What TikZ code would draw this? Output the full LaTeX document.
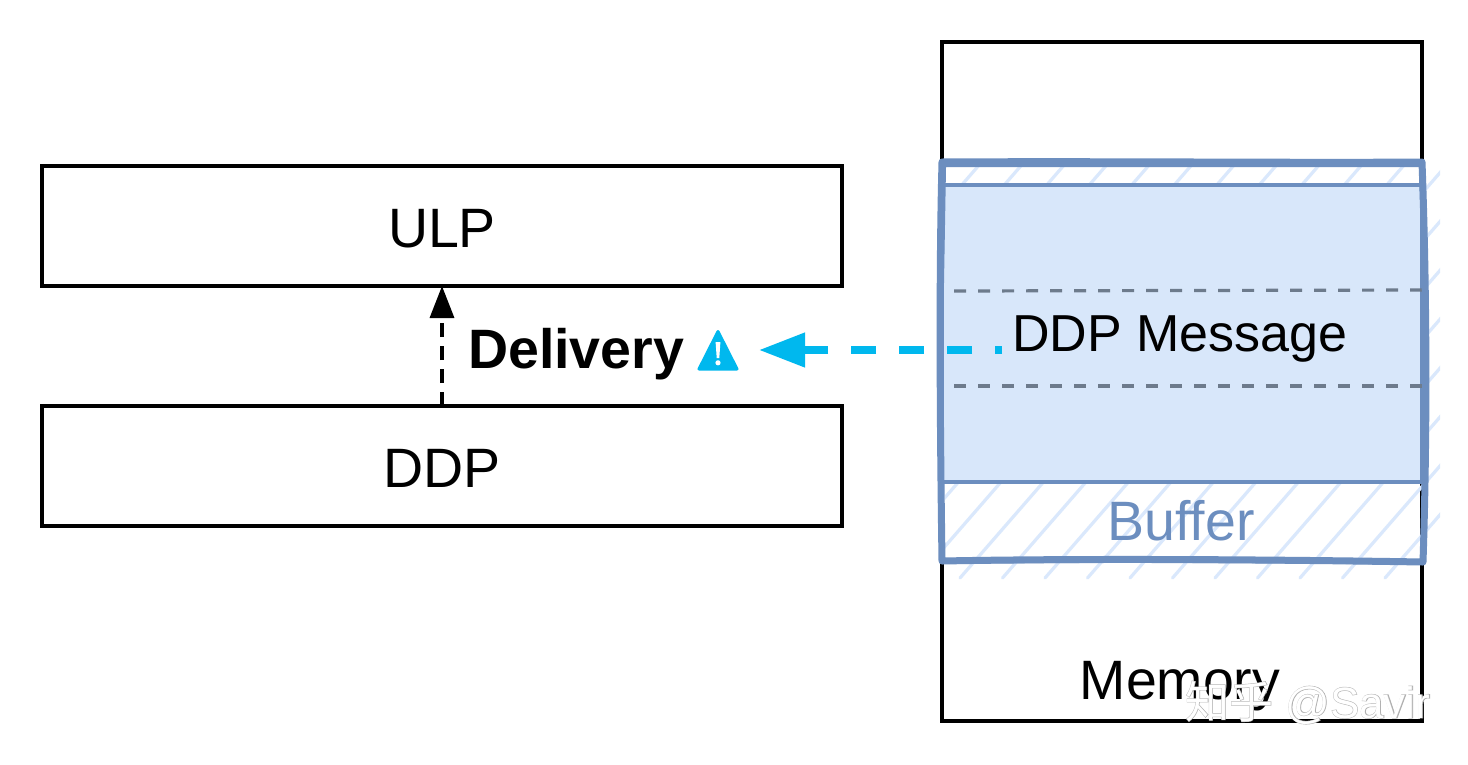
\documentclass[tikz,border=0pt]{standalone}
\usepackage{fontspec}
\setmainfont{Liberation Sans}
\newfontfamily\cjkwm{Noto Sans CJK SC}
\newfontfamily\cjkwmb[FakeBold=2]{Noto Sans CJK SC}
\newfontfamily\latinwmb[FakeBold=2]{Liberation Sans}
\usetikzlibrary{arrows.meta}
\definecolor{bufblue}{HTML}{6C8EBF}
\definecolor{msgfill}{HTML}{D8E7FA}
\definecolor{hatchblue}{HTML}{DAE8FC}
\definecolor{dashgray}{HTML}{6D7B8C}
\definecolor{cyanarrow}{HTML}{00B8EE}
\newcommand{\bigfont}{\fontsize{55.5}{60}\selectfont}
\newcommand{\wmfont}{\fontsize{44}{48}\selectfont}
\tikzset{
  layerbox/.style={draw=black,line width=4pt,minimum width=800pt,minimum height=120pt,inner sep=0pt,outer sep=0pt,font=\bigfont,fill=white},
  lbl/.style={anchor=base,inner sep=0pt,font=\bigfont},
  wmtext/.style={anchor=base west,inner sep=0pt,font=\wmfont},
  hatchline/.style={hatchblue,line width=3.2pt},
  gapline/.style={dashgray,line width=3.2pt,dash pattern=on 12pt off 12pt},
}
\begin{document}
\begin{tikzpicture}[x=1pt,y=-1pt]
\useasboundingbox (0,0) rectangle (1468,764);
\fill[white] (0,0) rectangle (1468,764);
% memory
\node[draw=black,line width=4pt,minimum width=480pt,minimum height=679pt,inner sep=0pt,outer sep=0pt] (mem) at (1182,381.5) {};
% hatch
\begin{scope}
\clip (945,165) rectangle (1440,580);
\foreach \i in {-9,...,10}{
  \draw[hatchline,line cap=round] ({960+42.5*\i},578) -- ({960+42.5*\i+400},{578-460});
}
\end{scope}
% message
\node[draw=bufblue,fill=msgfill,line width=3.5pt,minimum width=480pt,minimum height=297pt,inner sep=0pt,outer sep=0pt] (msg) at (1182,333.5) {};
\draw[gapline] (954,291) -- (1424,290);
\draw[gapline] (954,386) -- (1424,386);
% sketchy buffer outline
\draw[bufblue,line width=7pt,line join=round]
  (942,162) .. controls (1100,161) and (1300,163) .. (1422,162)
  .. controls (1427,300) and (1427,440) .. (1423,562)
  .. controls (1300,560) and (1100,558) .. (942,561)
  .. controls (940,420) and (939,280) .. (942,162) -- cycle;
\fill[bufblue] (942,163) -- (1421,163) -- (1421,167) -- (946,167) -- (943,340) -- (940,340) -- cycle;
\fill[bufblue] (1419,165) -- (1424,165) -- (1427,340) -- (1424,340) -- cycle;
\draw[bufblue,line width=4pt] (943,562) .. controls (1100,560) and (1300,561) .. (1422,563);
\node[lbl,text=bufblue] (buflabel) at (1181,540) {Buffer};
\node[lbl,font=\fontsize{52}{58}\selectfont] (msglabel) at (1180,351) {DDP Message};
\node[lbl] (memlabel) at (1180,699) {Memory};
% left boxes
\node[layerbox] (ulp) at (442,226) {\raisebox{-2pt}[\height][0pt]{ULP}};
\node[layerbox] (ddp) at (442,466) {\raisebox{-2pt}[\height][0pt]{DDP}};
\draw[line width=3.4pt,dash pattern=on 14pt off 9pt,-{Triangle[length=32pt,width=24pt]}] (ddp.north) -- (ulp.south);
% delivery
\node[anchor=base west,inner sep=0pt,font=\bigfont\bfseries] (delivery) at (468,368) {Delivery};
% warning icon
\fill[cyanarrow,draw=cyanarrow,line width=3pt,line join=round] (718,331.5) -- (737,369) -- (699,369) -- cycle;
\fill[white] (715.6,342) -- (720.4,342) -- (719.3,358) -- (716.7,358) -- cycle;
\fill[white] (718,362.8) circle (2.6pt);
% cyan arrow
\coordinate (arrowstart) at (1002,350);
\coordinate (arrowend) at (759,350);
\draw[cyanarrow,line width=7.5pt,dash pattern=on 25pt off 23pt,dash phase=18pt,-{Triangle[length=46pt,width=33pt]}] (arrowstart) -- (arrowend);
% watermark
\node[wmtext,text={rgb,255:red,176;green,176;blue,176}] (wmshadow) at (1185,718) {{\cjkwmb 知乎}\ {\latinwmb @Savir}};
\node[wmtext,text=white] (wm) at (1185,718) {{\cjkwm 知乎}\ @Savir};
\end{tikzpicture}
\end{document}
